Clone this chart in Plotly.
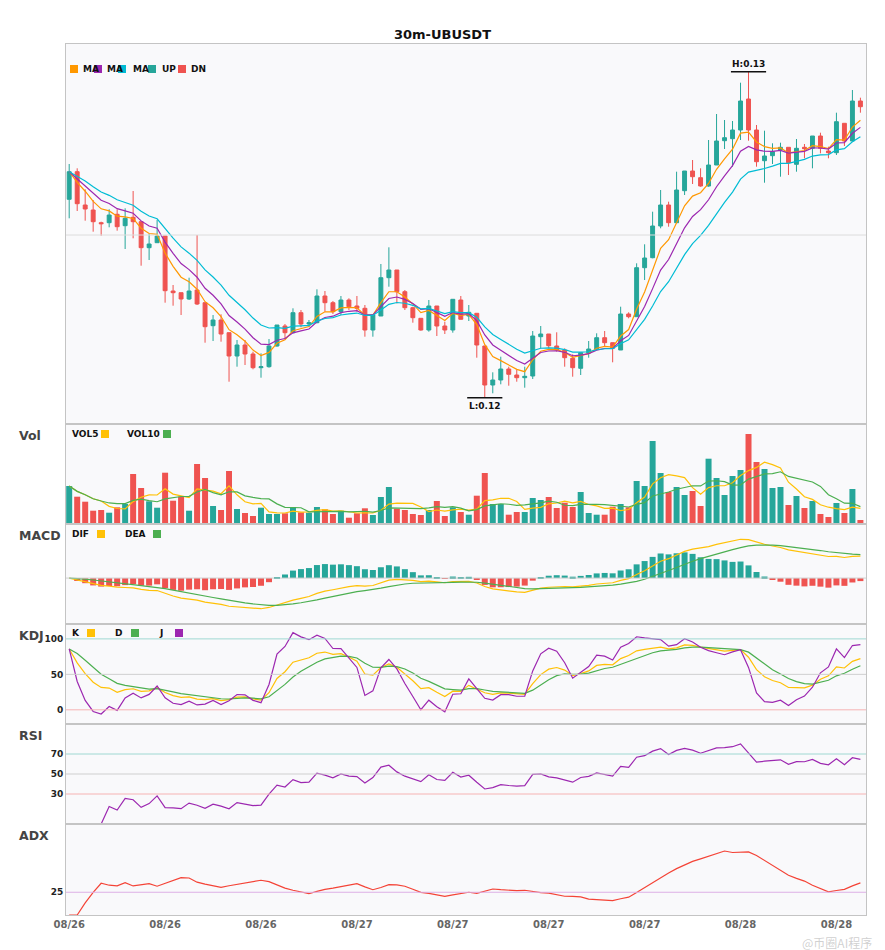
import numpy as np
import pandas as pd
import plotly.graph_objects as go
from plotly.subplots import make_subplots

# 30m candles (100 bars)
opens = [0.125357, 0.125633, 0.12530, 0.12525, 0.125123, 0.125123, 0.125207, 0.125093, 0.125177, 0.125133,
         0.124873, 0.124923, 0.12499, 0.12444, 0.124423, 0.12436, 0.12445, 0.124323, 0.124093, 0.12415,
         0.124023, 0.12379, 0.12390, 0.12381, 0.123673, 0.123683, 0.12389, 0.12409, 0.124023, 0.124223,
         0.12411, 0.124123, 0.12439, 0.124323, 0.124233, 0.12435, 0.12429, 0.124267, 0.12405, 0.12419,
         0.124573, 0.12465, 0.124433, 0.124273, 0.124167, 0.12405, 0.12429, 0.12409, 0.12405, 0.12435,
         0.12419, 0.124217, 0.12389, 0.12350, 0.12355, 0.12366, 0.12360, 0.123573, 0.12359, 0.123983,
         0.12401, 0.12389, 0.12385, 0.123767, 0.123667, 0.12382, 0.12386, 0.123973, 0.123923, 0.12385,
         0.12421, 0.124183, 0.124673, 0.124773, 0.12509, 0.12530, 0.125123, 0.125443, 0.12564, 0.125573,
         0.12549, 0.12570, 0.125943, 0.125963, 0.12605, 0.12636, 0.12605, 0.125743, 0.125793, 0.12585,
         0.125877, 0.125707, 0.125877, 0.125867, 0.12599, 0.12584, 0.125823, 0.126117, 0.12594, 0.12634]
highs = [0.12571, 0.125667, 0.125457, 0.12535, 0.125133, 0.125257, 0.125257, 0.125267, 0.12544, 0.125133,
         0.12501, 0.12515, 0.12499, 0.12450, 0.124423, 0.124573, 0.12500, 0.124323, 0.12420, 0.124207,
         0.124023, 0.12395, 0.12395, 0.123833, 0.123817, 0.12396, 0.12410, 0.12411, 0.124267, 0.12425,
         0.12415, 0.124457, 0.12444, 0.12434, 0.12439, 0.124367, 0.12439, 0.12430, 0.12420, 0.12471,
         0.124877, 0.12465, 0.12445, 0.124283, 0.124167, 0.12435, 0.12429, 0.124133, 0.124357, 0.12439,
         0.12430, 0.124217, 0.12389, 0.123627, 0.123783, 0.123683, 0.12365, 0.123683, 0.12404, 0.12409,
         0.12401, 0.124027, 0.123867, 0.123807, 0.123823, 0.12394, 0.124017, 0.12404, 0.123923, 0.124283,
         0.124227, 0.124717, 0.124907, 0.125233, 0.12545, 0.125333, 0.125633, 0.12564, 0.12575, 0.125667,
         0.12595, 0.12621, 0.12615, 0.12614, 0.126523, 0.126633, 0.12610, 0.126043, 0.125917, 0.125923,
         0.125877, 0.12596, 0.12591, 0.12599, 0.126023, 0.125883, 0.126223, 0.126117, 0.12645, 0.126373]
lows = [0.125167, 0.12524, 0.125143, 0.125033, 0.124993, 0.125077, 0.125043, 0.12486, 0.124967, 0.124693,
        0.12475, 0.124923, 0.124323, 0.124293, 0.12420, 0.12435, 0.12430, 0.123923, 0.12394, 0.123933,
        0.123533, 0.123683, 0.12370, 0.123657, 0.123573, 0.123673, 0.123883, 0.123957, 0.124017, 0.124077,
        0.124083, 0.124117, 0.124233, 0.12421, 0.12420, 0.12425, 0.124233, 0.123983, 0.123983, 0.12419,
        0.124483, 0.124317, 0.12425, 0.124123, 0.124043, 0.124033, 0.12399, 0.12401, 0.124023, 0.124157,
        0.12414, 0.123773, 0.123373, 0.123417, 0.123507, 0.123493, 0.123533, 0.123473, 0.12356, 0.123867,
        0.123867, 0.123833, 0.123683, 0.123583, 0.12360, 0.123773, 0.12385, 0.123883, 0.123727, 0.12385,
        0.124167, 0.124183, 0.12455, 0.124767, 0.125067, 0.125083, 0.125123, 0.12540, 0.12551, 0.125483,
        0.125483, 0.12570, 0.12586, 0.125683, 0.12595, 0.125943, 0.125683, 0.125523, 0.12571, 0.125583,
        0.12560, 0.125633, 0.125767, 0.125667, 0.125817, 0.125767, 0.12580, 0.12589, 0.12594, 0.126223]
closes = [0.125633, 0.125313, 0.12526, 0.125133, 0.125113, 0.12520, 0.125083, 0.125167, 0.125133, 0.124873,
          0.12491, 0.12499, 0.124443, 0.124423, 0.12436, 0.12444, 0.12431, 0.124083, 0.12415, 0.12401,
          0.12379, 0.12390, 0.12381, 0.123673, 0.123683, 0.12389, 0.12410, 0.124023, 0.124223, 0.12411,
          0.124123, 0.12439, 0.124323, 0.124233, 0.12435, 0.124283, 0.124267, 0.12405, 0.12420, 0.124573,
          0.12465, 0.124433, 0.124273, 0.124173, 0.12405, 0.12429, 0.12409, 0.12405, 0.124357, 0.124157,
          0.124227, 0.12390, 0.12350, 0.12355, 0.12366, 0.123607, 0.123573, 0.123587, 0.12399, 0.12401,
          0.123893, 0.12385, 0.123773, 0.123673, 0.123823, 0.12386, 0.123973, 0.123923, 0.123867, 0.12421,
          0.124183, 0.124673, 0.12477, 0.12509, 0.12530, 0.125123, 0.12545, 0.12564, 0.125583, 0.12549,
          0.12570, 0.12594, 0.125973, 0.12605, 0.12634, 0.12605, 0.125733, 0.12579, 0.125833, 0.125877,
          0.125723, 0.125867, 0.125863, 0.12599, 0.125867, 0.125823, 0.126133, 0.12594, 0.12634, 0.126283]
volumes = [38, 27.3, 22.3, 13.3, 14, 11.3, 16.7, 20, 50, 36,
           22.7, 16.3, 51.3, 23.3, 27.3, 13.3, 60, 46, 18, 14,
           53, 15, 11, 8, 16.3, 10, 10, 10.7, 17, 11.7,
           11.3, 17, 14.7, 10, 13.3, 6.3, 10.7, 15.7, 9, 27,
           37, 15.3, 14, 10, 9, 14, 23, 8, 16.7, 12,
           9.3, 28.3, 51, 20, 20, 9.3, 12, 12, 26, 24,
           27, 16, 21.3, 17, 32, 11, 9.3, 9.3, 17.3, 20,
           16.7, 43, 38, 83, 51, 32, 37, 29, 33, 18,
           65.3, 46, 29, 48, 54, 90, 62, 55, 36, 37,
           19, 28, 16, 23, 10, 7, 21, 11, 35, 4]
tick_pos = [0, 12, 24, 36, 48, 60, 72, 84, 96]
tick_labels = ['08/26', '08/26', '08/26', '08/27', '08/27', '08/27', '08/27', '08/28', '08/28']

UP = '#26a69a'
DN = '#ef5350'

df = pd.DataFrame({'open': opens, 'high': highs, 'low': lows, 'close': closes, 'vol': volumes})
x = list(range(len(df)))
c = df['close']

# moving averages (5 / 8 / 13 EMA on close, SMA on volume)
ma_fast = c.ewm(span=5, adjust=False).mean()
ma_mid = c.ewm(span=8, adjust=False).mean()
ma_slow = c.ewm(span=13, adjust=False).mean()
vol5 = df['vol'].rolling(5, min_periods=1).mean()
vol10 = df['vol'].rolling(10, min_periods=1).mean()

# MACD
dif = c.ewm(span=12, adjust=False).mean() - c.ewm(span=26, adjust=False).mean()
dea = dif.ewm(span=9, adjust=False).mean()
hist = 2 * (dif - dea)

# KDJ
low9 = df['low'].rolling(9, min_periods=1).min()
high9 = df['high'].rolling(9, min_periods=1).max()
rsv = (c - low9) / (high9 - low9) * 100
k = rsv.ewm(com=2, adjust=False).mean()
d = k.ewm(com=2, adjust=False).mean()
j = 3 * k - 2 * d

# RSI 14
delta = c.diff()
gain = delta.clip(lower=0).ewm(com=13).mean()
loss = (-delta.clip(upper=0)).ewm(com=13).mean()
rsi = 100 - 100 / (1 + gain / loss)

# ADX 14
up_move = df['high'].diff()
dn_move = -df['low'].diff()
plus_dm = pd.Series(np.where((up_move > dn_move) & (up_move > 0), up_move, 0.0))
minus_dm = pd.Series(np.where((dn_move > up_move) & (dn_move > 0), dn_move, 0.0))
tr = pd.concat([df['high'] - df['low'], (df['high'] - c.shift()).abs(),
                (df['low'] - c.shift()).abs()], axis=1).max(axis=1)
atr = tr.ewm(span=14, adjust=False).mean()
pdi = 100 * plus_dm.ewm(span=14, adjust=False).mean() / atr
mdi = 100 * minus_dm.ewm(span=14, adjust=False).mean() / atr
dx = (100 * (pdi - mdi).abs() / (pdi + mdi)).fillna(0)
adx = dx.ewm(span=14, adjust=False).mean()

bar_colors = [UP if cl >= op else DN for op, cl in zip(opens, closes)]
hist_colors = [UP if h >= 0 else DN for h in hist]

fig = make_subplots(rows=6, cols=1, shared_xaxes=True, vertical_spacing=0,
                    row_heights=[380, 100, 100, 100, 100, 91])

fig.add_trace(go.Candlestick(x=x, open=opens, high=highs, low=lows, close=closes,
                             increasing=dict(line=dict(color=UP, width=1), fillcolor=UP),
                             decreasing=dict(line=dict(color=DN, width=1), fillcolor=DN),
                             whiskerwidth=0, hoverinfo='skip'), row=1, col=1)
for s, col in [(ma_fast, '#ff9800'), (ma_mid, '#9c27b0'), (ma_slow, '#00bcd4')]:
    fig.add_trace(go.Scatter(x=x, y=s, mode='lines', line=dict(color=col, width=1.2)), row=1, col=1)

fig.add_trace(go.Bar(x=x, y=volumes, marker_color=bar_colors, marker_line_width=0), row=2, col=1)
fig.add_trace(go.Scatter(x=x, y=vol5, mode='lines', line=dict(color='#ffc107', width=1.2)), row=2, col=1)
fig.add_trace(go.Scatter(x=x, y=vol10, mode='lines', line=dict(color='#4caf50', width=1.2)), row=2, col=1)

fig.add_trace(go.Bar(x=x, y=hist, marker_color=hist_colors, marker_line_width=0), row=3, col=1)
fig.add_trace(go.Scatter(x=x, y=dif, mode='lines', line=dict(color='#ffc107', width=1.2)), row=3, col=1)
fig.add_trace(go.Scatter(x=x, y=dea, mode='lines', line=dict(color='#4caf50', width=1.2)), row=3, col=1)

for s, col in [(k, '#ffc107'), (d, '#4caf50'), (j, '#9c27b0')]:
    fig.add_trace(go.Scatter(x=x, y=s, mode='lines', line=dict(color=col, width=1.2)), row=4, col=1)

fig.add_trace(go.Scatter(x=x, y=rsi, mode='lines', line=dict(color='#9c27b0', width=1.2)), row=5, col=1)
fig.add_trace(go.Scatter(x=x, y=adx, mode='lines', line=dict(color='#f44336', width=1.2)), row=6, col=1)

# reference lines
fig.add_hline(y=0.125, line=dict(color='#dcdcdc', width=1), row=1, col=1)
fig.add_hline(y=0, line=dict(color='#cfcfcf', width=1), row=3, col=1)
for yv, col, r in [(100, '#9fd8d2', 4), (50, '#cfcfcf', 4), (0, '#f6b3b3', 4),
                   (70, '#9fd8d2', 5), (50, '#cfcfcf', 5), (30, '#f6b3b3', 5),
                   (25, '#ddb0e6', 6)]:
    fig.add_hline(y=yv, line=dict(color=col, width=1), row=r, col=1)

# price extremes
hi_i = int(np.argmax(highs))
lo_i = int(np.argmin(lows))
fig.add_shape(type='line', x0=hi_i - 2.2, x1=hi_i + 2.2, y0=highs[hi_i], y1=highs[hi_i],
              line=dict(color='#111', width=1.5), row=1, col=1)
fig.add_shape(type='line', x0=lo_i - 2.2, x1=lo_i + 2.2, y0=lows[lo_i], y1=lows[lo_i],
              line=dict(color='#111', width=1.5), row=1, col=1)
fig.add_annotation(x=hi_i, y=highs[hi_i], text=f'<b>H:{round(highs[hi_i], 2)}</b>', showarrow=False,
                   yanchor='bottom', yshift=1, font=dict(size=9, color='#111'), row=1, col=1)
fig.add_annotation(x=lo_i, y=lows[lo_i], text=f'<b>L:{round(lows[lo_i], 2)}</b>', showarrow=False,
                   yanchor='top', yshift=-1, font=dict(size=9, color='#111'), row=1, col=1)


# pixel -> paper helpers for the decorations
def px(v):
    return (v - 66) / 800


def py(v):
    return (915 - v) / 871


for name, ypix in [('Vol', 435), ('MACD', 535), ('KDJ', 635), ('RSI', 735), ('ADX', 835)]:
    fig.add_annotation(xref='paper', yref='paper', x=px(17), y=py(ypix), text=f'<b>{name}</b>',
                       showarrow=False, xanchor='left', yanchor='middle',
                       font=dict(size=12.5, color='#444'))

# hand-drawn legends: (label, label x, square x, colour, row y)
legend_items = [
    ('MA', 81, 70, '#ff9800', 69), ('MA', 105, 94, '#9c27b0', 69), ('MA', 131, 118, '#00bcd4', 69),
    ('UP', 160, 148, UP, 69), ('DN', 189, 178, DN, 69),
    ('VOL5', 70, 101, '#ffc107', 434), ('VOL10', 125, 163, '#4caf50', 434),
    ('DIF', 70, 97, '#ffc107', 534), ('DEA', 123, 153, '#4caf50', 534),
    ('K', 70, 87, '#ffc107', 633), ('D', 113, 131, '#4caf50', 633), ('J', 157, 175, '#9c27b0', 633),
]
for label, lx, sx, col, ly in legend_items:
    fig.add_shape(type='rect', xref='paper', yref='paper', x0=px(sx), x1=px(sx + 8),
                  y0=py(ly - 4), y1=py(ly + 4), fillcolor=col, line=dict(width=0))
    fig.add_annotation(xref='paper', yref='paper', x=px(lx), y=py(ly), text=f'<b>{label}</b>',
                       showarrow=False, xanchor='left', yanchor='middle',
                       font=dict(size=9, color='#111'))

fig.add_annotation(xref='paper', yref='paper', x=px(874), y=py(942), text='@币圈AI程序',
                   showarrow=False, xanchor='right', yanchor='middle',
                   font=dict(size=12, color='rgba(150,150,150,0.45)', family='Noto Sans CJK SC'))

macd_lo = min(dif.min(), dea.min(), hist.min())
macd_hi = max(dif.max(), dea.max(), hist.max())
pad = (macd_hi - macd_lo) * 0.22

axis_style = dict(showline=True, linecolor='#c4c4c4', linewidth=1, mirror=True,
                  showgrid=False, zeroline=False, ticks='')
fig.update_xaxes(**axis_style, range=[-0.4, 99.7], rangeslider_visible=False)
fig.update_xaxes(tickvals=tick_pos, ticktext=[f'<b>{t}</b>' for t in tick_labels],
                 tickfont=dict(size=10, color='#666'), row=6, col=1)
fig.update_yaxes(**axis_style)
fig.update_yaxes(range=[0.12311, 0.12691], showticklabels=False, row=1, col=1)
fig.update_yaxes(range=[0, 100], showticklabels=False, row=2, col=1)
fig.update_yaxes(range=[macd_lo - pad, macd_hi + pad], showticklabels=False, row=3, col=1)
tick_font = dict(size=9, color='#222')
fig.update_yaxes(range=[-20, 121], tickvals=[0, 50, 100], ticktext=['<b>0</b>', '<b>50</b>', '<b>100</b>'],
                 tickfont=tick_font, row=4, col=1)
fig.update_yaxes(range=[0, 100], tickvals=[30, 50, 70], ticktext=['<b>30</b>', '<b>50</b>', '<b>70</b>'],
                 tickfont=tick_font, row=5, col=1)
fig.update_yaxes(range=[0, 100], tickvals=[25], ticktext=['<b>25</b>'], tickfont=tick_font, row=6, col=1)

fig.update_layout(
    width=885, height=950,
    margin=dict(l=66, r=19, t=44, b=35),
    title=dict(text='<b>30m-UBUSDT</b>', x=0.5, xref='container', y=1 - 34 / 950, yanchor='middle',
               font=dict(size=13, color='#111')),
    font=dict(family='DejaVu Sans'),
    showlegend=False,
    paper_bgcolor='white',
    plot_bgcolor='#f9f9fb',
    bargap=0.25,
    hovermode=False,
)

# drop the default page margin so the figure sits at the window origin
fig.write_html('out.html', config={'displayModeBar': False},
               post_script="document.body.style.margin='0';")
